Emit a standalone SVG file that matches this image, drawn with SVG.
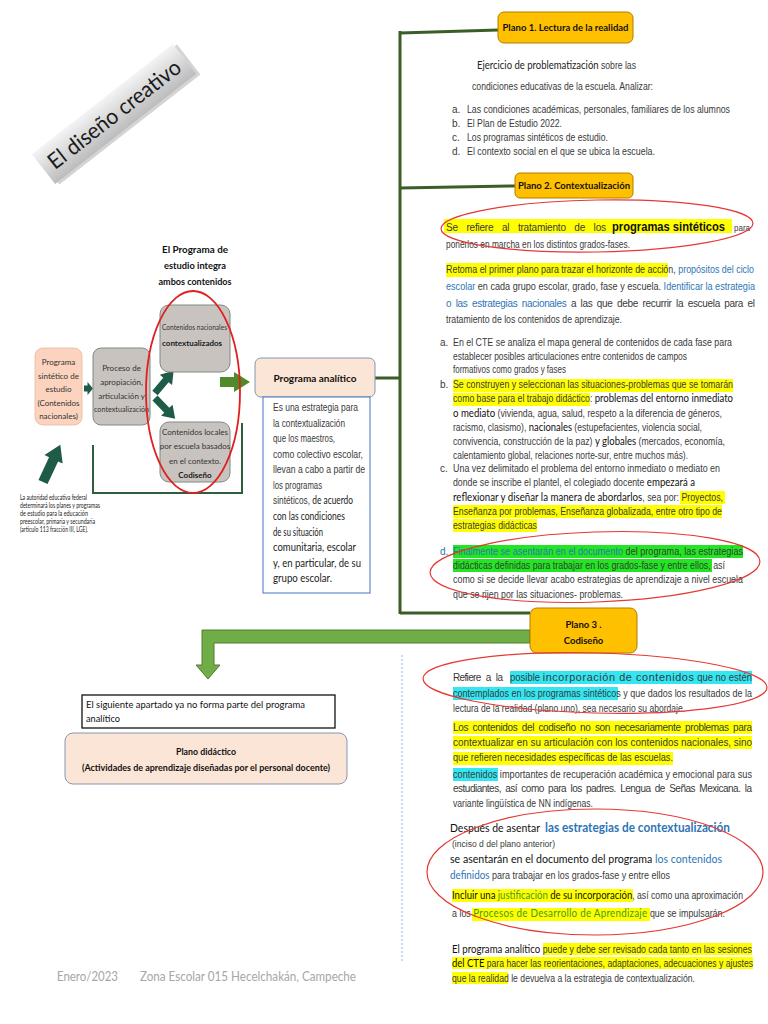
<svg xmlns="http://www.w3.org/2000/svg" width="768" height="1024" viewBox="0 0 768 1024">
<defs>
<style>
.n{font-family:"Liberation Sans Narrow","Liberation Sans",Arial,sans-serif;font-size:10px;fill:#3a3a3a}
.c{font-family:Lato,"Open Sans","Liberation Sans",sans-serif}
.b{font-weight:bold}
.k{fill:#111}
.bl{fill:#2e75b6}
.gr{fill:#3f9a2a}
.hy{fill:#ffff00}
.hc{fill:#33e6f2}
.hg{fill:#22e622}
.red{fill:none;stroke:#e53935;stroke-width:1.2}
.plano{fill:#ffc000;stroke:#b07d00;stroke-width:1}
.pt{font-family:Lato,"Open Sans",sans-serif;font-weight:bold;font-size:9.5px;fill:#111;text-anchor:middle}
.gbox{fill:#c9c3bf;stroke:#7f8a84;stroke-width:1}
.st{font-family:Lato,"Open Sans",sans-serif;font-size:8px;fill:#333;text-anchor:middle}
.sl{text-anchor:start}
.sb{font-weight:bold;fill:#1a1a1a}
.dg{fill:#1e5c48}
.conn{fill:none;stroke:#3b5e26;stroke-width:3}
</style>
<linearGradient id="tg" x1="0" y1="0" x2="0" y2="1"><stop offset="0" stop-color="#f4f4f4"/><stop offset="1" stop-color="#bcbcbc"/></linearGradient>
<polygon id="arr" points="0,-3.5 17,-3.5 17,-8 29,0 17,8 17,3.5 0,3.5"/>
<polygon id="arrB" points="0,-5 25,-5 25,-10 41,0 25,10 25,5 0,5"/>
</defs>
<rect width="768" height="1024" fill="#fff"/>

<g id="title" transform="rotate(-38 114 114)">
<rect x="27.5" y="98" width="179" height="38" fill="#aaa" opacity="0.5"/>
<rect x="24.5" y="95" width="179" height="38" fill="url(#tg)"/>
<text x="114" y="122" text-anchor="middle" class="c" font-size="22" fill="#1a1a1a" textLength="162" lengthAdjust="spacingAndGlyphs">El diseño creativo</text>
</g>

<g id="integra" class="c b" font-size="10" fill="#111" text-anchor="middle">
<text x="195" y="253" textLength="66" lengthAdjust="spacingAndGlyphs">El Programa de</text>
<text x="195" y="269" textLength="62" lengthAdjust="spacingAndGlyphs">estudio integra</text>
<text x="195" y="285" textLength="73" lengthAdjust="spacingAndGlyphs">ambos contenidos</text>
</g>

<g id="connectors">
<path class="conn" d="M400,31 V614"/>
<path class="conn" d="M400,33 L498,30"/>
<path class="conn" d="M400,188 L515,186"/>
<path class="conn" d="M400,613 L530,613"/>
<path class="conn" d="M375,378 H400"/>
<path d="M93,445 V493 H242 V423" fill="none" stroke="#2f5e3f" stroke-width="2"/>
<polygon points="84,385.5 87.5,385.5 87.5,382 93,388.5 87.5,395 87.5,391.5 84,391.5" class="dg"/>
<use href="#arr" class="dg" transform="translate(155 393) rotate(-50)"/>
<use href="#arr" class="dg" transform="translate(155 398) rotate(46)"/>
<use href="#arrB" class="dg" transform="translate(43 482) rotate(-65)"/>
<polygon points="220,377 234,377 234,372 250,382 234,392 234,387 220,387" fill="#4f8a2b"/>
<polygon points="530,630 202,630 202,665 196,665 208,679 220,665 214,665 214,643 530,643" fill="#70ad47" stroke="#507e32" stroke-width="1"/>
<path d="M402,655 V962" stroke="#9dc3e6" stroke-width="1.2" stroke-dasharray="2,2"/>
</g>

<g id="nodo-sintetico">
<rect x="35" y="348" width="47" height="77" rx="8" fill="#fbd3bf" stroke="#e9b8a0" stroke-width="0.8"/>
<text class="st"><tspan x="58.5" y="365">Programa</tspan><tspan x="58.5" y="379">sintético de</tspan><tspan x="58.5" y="392">estudio</tspan><tspan x="58.5" y="406">(Contenidos</tspan><tspan x="58.5" y="419">nacionales)</tspan></text>
</g>
<g id="nodo-proceso">
<rect x="93" y="348" width="57" height="77" rx="8" class="gbox"/>
<text class="st"><tspan x="121.5" y="371">Proceso de</tspan><tspan x="121.5" y="385">apropiación,</tspan><tspan x="121.5" y="399">articulación y</tspan></text>
<text class="st" x="121.5" y="412" textLength="55" lengthAdjust="spacingAndGlyphs">contextualización</text>
</g>
<g id="nodo-nacionales">
<rect x="160" y="305" width="70" height="67" rx="9" class="gbox"/>
<text class="st sl" x="162" y="330" textLength="65" lengthAdjust="spacingAndGlyphs">Contenidos  nacionales</text>
<text class="st sl sb" x="162" y="346">contextualizados</text>
</g>
<g id="nodo-locales">
<rect x="160" y="422" width="70" height="60" rx="9" class="gbox"/>
<text class="st"><tspan x="195" y="435">Contenidos locales</tspan><tspan x="195" y="449">por escuela basados</tspan><tspan x="195" y="464">en el contexto.</tspan><tspan x="195" y="478" class="sb">Codiseño</tspan></text>
</g>
<ellipse cx="193" cy="392" rx="47" ry="101" fill="none" stroke="#e02020" stroke-width="1.8"/>

<g id="nota-autoridad" class="c" font-size="6.8" fill="#222">
<text x="20" y="500" textLength="67" lengthAdjust="spacingAndGlyphs">La autoridad educativa federal</text>
<text x="20" y="508" textLength="80" lengthAdjust="spacingAndGlyphs">determinará los planes y programas</text>
<text x="20" y="516" textLength="68" lengthAdjust="spacingAndGlyphs">de estudio para la educación</text>
<text x="20" y="524" textLength="75" lengthAdjust="spacingAndGlyphs">preescolar, primaria y secundaria</text>
<text x="20" y="532" textLength="68" lengthAdjust="spacingAndGlyphs">(artículo 113 fracción III, LGE).</text>
</g>

<g id="programa-analitico">
<rect x="255" y="358" width="120" height="39" rx="6" fill="#fbe5d6" stroke="#8497b0" stroke-width="1"/>
<text class="c b" x="315" y="382" font-size="10" fill="#111" text-anchor="middle">Programa analítico</text>
<rect x="263" y="397" width="107" height="196" fill="#fff" stroke="#4472c4" stroke-width="1"/>
<g class="n" style="font-size:10.5px">
<text x="273" y="411" textLength="85" lengthAdjust="spacingAndGlyphs">Es una estrategia para</text>
<text x="273" y="427" textLength="72" lengthAdjust="spacingAndGlyphs">la contextualización</text>
<text x="273" y="442" textLength="62" lengthAdjust="spacingAndGlyphs">que los  maestros,</text>
<text x="273" y="458" textLength="90" lengthAdjust="spacingAndGlyphs">como colectivo escolar,</text>
<text x="273" y="473" textLength="92" lengthAdjust="spacingAndGlyphs">llevan a cabo a partir de</text>
<text x="273" y="489" textLength="49" lengthAdjust="spacingAndGlyphs">los programas</text>
<text x="273" y="504" textLength="80" lengthAdjust="spacingAndGlyphs">sintéticos, <tspan class="c" fill="#222">de acuerdo</tspan></text>
<text x="273" y="520" class="c" fill="#222" textLength="72" lengthAdjust="spacingAndGlyphs">con las condiciones</text>
<text x="273" y="536" class="c" fill="#222" textLength="50" lengthAdjust="spacingAndGlyphs">de su situación</text>
<text x="273" y="551" class="c" fill="#222" textLength="83" lengthAdjust="spacingAndGlyphs">comunitaria,  escolar</text>
<text x="273" y="567" class="c" fill="#222" textLength="88" lengthAdjust="spacingAndGlyphs">y, en particular, de su</text>
<text x="273" y="582" class="c" fill="#222" textLength="59" lengthAdjust="spacingAndGlyphs">grupo escolar.</text>
</g>
</g>

<g id="plano1">
<rect x="498" y="12" width="135" height="31" rx="6" class="plano"/>
<text class="pt" x="565.5" y="31">Plano 1. Lectura de la realidad</text>
</g>
<g id="plano1-texto" class="n">
<text x="477" y="69" textLength="159" lengthAdjust="spacingAndGlyphs"><tspan class="c" font-size="11" fill="#222">Ejercicio de problematización</tspan> sobre las</text>
<text x="472" y="90" textLength="181" lengthAdjust="spacingAndGlyphs">condiciones educativas de la escuela. Analizar:</text>
<text x="452" y="113">a.</text><text x="467" y="113" textLength="263" lengthAdjust="spacingAndGlyphs">Las condiciones académicas, personales,  familiares de los alumnos</text>
<text x="452" y="127">b.</text><text x="467" y="127" textLength="95" lengthAdjust="spacingAndGlyphs">El Plan de Estudio 2022.</text>
<text x="452" y="141">c.</text><text x="467" y="141" textLength="141" lengthAdjust="spacingAndGlyphs">Los programas sintéticos de estudio.</text>
<text x="452" y="155">d.</text><text x="467" y="155" textLength="188" lengthAdjust="spacingAndGlyphs">El contexto social en el que se ubica  la escuela.</text>
</g>

<g id="plano2">
<rect x="515" y="173" width="118" height="25" rx="5" class="plano"/>
<text class="pt" x="574" y="189">Plano 2. Contextualización</text>
</g>
<g id="plano2-texto">
<rect x="444" y="219" width="288" height="14" class="hy"/>
<rect x="446" y="263" width="222" height="14" class="hy"/>
<rect x="453" y="379" width="280" height="13" class="hy"/>
<rect x="453" y="393" width="137" height="13" class="hy"/>
<rect x="680" y="491" width="45" height="13" class="hy"/>
<rect x="453" y="505" width="269" height="13" class="hy"/>
<rect x="453" y="519" width="84" height="13" class="hy"/>
<rect x="453" y="545" width="290" height="13" class="hg"/>
<rect x="453" y="559" width="259" height="13" class="hg"/>
<g class="n">
<text x="446" y="231" word-spacing="6" textLength="160" lengthAdjust="spacing">Se refiere al tratamiento  de los</text>
<text x="612" y="231" font-size="13" class="b k" textLength="113" lengthAdjust="spacingAndGlyphs">programas sintéticos</text>
<text x="734" y="231" font-size="8.5" textLength="16" lengthAdjust="spacingAndGlyphs">para</text>
<text x="446" y="248" textLength="184" lengthAdjust="spacingAndGlyphs">ponerlos en marcha  en  los distintos grados-fases.</text>
<text x="446" y="273" textLength="308" lengthAdjust="spacingAndGlyphs">Retoma el primer plano para trazar el horizonte de acción, <tspan class="bl">propósitos del ciclo</tspan></text>
<text x="446" y="290" textLength="309" lengthAdjust="spacingAndGlyphs"><tspan class="bl">escolar</tspan> en cada grupo escolar, grado, fase  y escuela. <tspan class="bl">Identificar la estrategia</tspan></text>
<text x="446" y="307" word-spacing="2" textLength="309" lengthAdjust="spacing"><tspan class="bl">o las estrategias nacionales</tspan> a las que  debe recurrir la escuela para el</text>
<text x="446" y="323" textLength="176" lengthAdjust="spacingAndGlyphs">tratamiento de los contenidos de aprendizaje.</text>

<text x="440" y="346">a.</text>
<text x="453" y="346" textLength="279" lengthAdjust="spacingAndGlyphs">En el CTE se analiza el mapa general de contenidos de  cada fase para</text>
<text x="453" y="360" textLength="234" lengthAdjust="spacingAndGlyphs">establecer posibles articulaciones entre contenidos  de campos</text>
<text x="453" y="373" textLength="113" lengthAdjust="spacingAndGlyphs">formativos como grados y fases</text>
<text x="440" y="388">b.</text>
<text x="453" y="388" textLength="280" lengthAdjust="spacingAndGlyphs">Se construyen  y seleccionan las situaciones-problemas que se tomarán</text>
<text x="453" y="402" textLength="280" lengthAdjust="spacingAndGlyphs">como base para el trabajo didáctico: <tspan class="c k" font-size="11">problemas del entorno inmediato</tspan></text>
<text x="453" y="417" textLength="269" lengthAdjust="spacingAndGlyphs"><tspan class="c k" font-size="11">o  mediato</tspan> (vivienda, agua, salud, respeto a la diferencia de géneros,</text>
<text x="453" y="431" textLength="249" lengthAdjust="spacingAndGlyphs">racismo, clasismo), <tspan class="c k" font-size="11">nacionales</tspan> (estupefacientes, violencia social,</text>
<text x="453" y="445" textLength="272" lengthAdjust="spacingAndGlyphs">convivencia, construcción de la paz) <tspan class="c k" font-size="11">y globales</tspan> (mercados, economía,</text>
<text x="453" y="459" textLength="235" lengthAdjust="spacingAndGlyphs">calentamiento global, relaciones norte-sur, entre muchos más).</text>
<text x="440" y="472">c.</text>
<text x="453" y="472" textLength="267" lengthAdjust="spacingAndGlyphs">Una vez delimitado el problema del entorno inmediato o mediato  en</text>
<text x="453" y="486" textLength="242" lengthAdjust="spacingAndGlyphs">donde se inscribe el plantel, el colegiado docente <tspan class="c k" font-size="11">empezará a</tspan></text>
<text x="453" y="501" textLength="270" lengthAdjust="spacingAndGlyphs"><tspan class="c k" font-size="11">reflexionar y diseñar la manera de abordarlos</tspan>, sea por: Proyectos,</text>
<text x="453" y="515" textLength="269" lengthAdjust="spacingAndGlyphs">Enseñanza por problemas, Enseñanza globalizada, entre otro tipo de</text>
<text x="453" y="529" textLength="84" lengthAdjust="spacingAndGlyphs">estrategias didácticas</text>
<text x="440" y="555" class="bl">d.</text>
<text x="453" y="555" textLength="290" lengthAdjust="spacingAndGlyphs"><tspan class="bl">Finalmente se asentarán en el documento</tspan> del programa, las estrategias</text>
<text x="453" y="569" textLength="272" lengthAdjust="spacingAndGlyphs">didácticas definidas para trabajar en los grados-fase  y entre ellos, así</text>
<text x="453" y="583" textLength="290" lengthAdjust="spacingAndGlyphs">como si se decide llevar acabo estrategias de  aprendizaje a nivel escuela</text>
<text x="453" y="598" textLength="170" lengthAdjust="spacingAndGlyphs">que se rijen por las situaciones-  problemas.</text>
</g>
<ellipse class="red" cx="597" cy="226" rx="156" ry="26" transform="rotate(-1 597 226)"/>
<ellipse class="red" cx="595" cy="567" rx="165" ry="35" transform="rotate(-2 595 567)"/>
</g>

<g id="plano3">
<rect x="530" y="608" width="107" height="45" rx="7" class="plano"/>
<text class="pt"><tspan x="583.5" y="628">Plano 3 .</tspan><tspan x="583.5" y="644">Codiseño</tspan></text>
</g>
<g id="plano3-texto">
<rect x="510" y="671" width="242" height="13" class="hc"/>
<rect x="453" y="687" width="165" height="13" class="hc"/>
<rect x="453" y="721" width="299" height="13" class="hy"/>
<rect x="453" y="736" width="299" height="13" class="hy"/>
<rect x="453" y="752" width="220" height="13" class="hy"/>
<rect x="453" y="768" width="45" height="13" class="hc"/>
<rect x="452" y="889" width="181" height="13" class="hy"/>
<rect x="472" y="908" width="178" height="13" class="hy"/>
<rect x="543" y="943" width="209" height="12" class="hy"/>
<rect x="452" y="957" width="301" height="12" class="hy"/>
<rect x="452" y="972" width="56" height="12" class="hy"/>
<g class="n">
<text x="453" y="681" word-spacing="3" textLength="50" lengthAdjust="spacing">Refiere a la</text>
<text x="510" y="681" textLength="242" lengthAdjust="spacingAndGlyphs">posible <tspan font-size="11.5" letter-spacing="0.6">incorporación de contenidos</tspan> que no estén</text>
<text x="453" y="697" textLength="299" lengthAdjust="spacingAndGlyphs">contemplados en los  programas sintéticos y que dados los resultados de la</text>
<text x="453" y="712" textLength="232" lengthAdjust="spacingAndGlyphs">lectura de la realidad (plano uno), sea necesario su abordaje.</text>
<text x="453" y="731" word-spacing="2" textLength="299" lengthAdjust="spacing">Los  contenidos del codiseño no son necesariamente problemas para</text>
<text x="453" y="746" textLength="299" lengthAdjust="spacingAndGlyphs">contextualizar en su articulación con los contenidos nacionales, sino</text>
<text x="453" y="761" textLength="220" lengthAdjust="spacingAndGlyphs">que refieren necesidades específicas de las escuelas.</text>
<text x="453" y="778" textLength="299" lengthAdjust="spacingAndGlyphs">contenidos importantes de recuperación académica y emocional  para sus</text>
<text x="453" y="792" word-spacing="2" textLength="299" lengthAdjust="spacing">estudiantes, así como para los padres. Lengua de Señas Mexicana. la</text>
<text x="453" y="807" textLength="140" lengthAdjust="spacingAndGlyphs">variante lingüística de NN indígenas.</text>

<text x="450" y="832" class="c k" font-size="11" textLength="90" lengthAdjust="spacingAndGlyphs">Después de asentar</text>
<text x="545" y="832" class="c b bl" font-size="13" textLength="185" lengthAdjust="spacingAndGlyphs">las estrategias de contextualización</text>
<text x="452" y="847" font-size="8.5" textLength="103" lengthAdjust="spacingAndGlyphs">(inciso d del plano anterior)</text>
<text x="450" y="863" textLength="272" lengthAdjust="spacingAndGlyphs"><tspan class="c k" font-size="11">se asentarán en el documento  del programa</tspan> <tspan class="c bl" font-size="11">los contenidos</tspan></text>
<text x="450" y="879" textLength="220" lengthAdjust="spacingAndGlyphs"><tspan class="c bl" font-size="11">definidos</tspan> para trabajar en los  grados-fase y entre ellos</text>
<text x="452" y="899" textLength="291" lengthAdjust="spacingAndGlyphs"><tspan class="c k" font-size="11">Incluir una <tspan class="gr">justificación</tspan> de su incorporación</tspan>, así como  una aproximación</text>
<text x="452" y="917" textLength="273" lengthAdjust="spacingAndGlyphs">a los <tspan class="c gr" font-size="11" letter-spacing="0.3">Procesos de Desarrollo de Aprendizaje</tspan> que se impulsarán.</text>

<text x="452" y="953" textLength="300" lengthAdjust="spacingAndGlyphs"><tspan class="c k" font-size="11">El programa analítico</tspan> puede y debe ser revisado cada tanto en las sesiones</text>
<text x="452" y="967" textLength="301" lengthAdjust="spacingAndGlyphs"><tspan class="c k" font-size="11">del CTE</tspan> para hacer las reorientaciones, adaptaciones, adecuaciones y ajustes</text>
<text x="452" y="982" textLength="243" lengthAdjust="spacingAndGlyphs">que la realidad le devuelva a la estrategia de contextualización.</text>
</g>
<ellipse class="red" cx="595" cy="683" rx="172" ry="30" transform="rotate(1.5 595 683)"/>
<ellipse class="red" cx="595" cy="872" rx="168" ry="63"/>
</g>

<g id="aviso">
<rect x="82" y="695" width="253" height="33" fill="#fff" stroke="#111" stroke-width="1.3"/>
<text class="c" font-size="10" fill="#111" x="86" y="708" textLength="219" lengthAdjust="spacingAndGlyphs">El siguiente apartado ya no forma parte del programa</text>
<text class="c" font-size="10" fill="#111" x="86" y="722" textLength="34" lengthAdjust="spacingAndGlyphs">analítico</text>
</g>
<g id="plano-didactico">
<rect x="65" y="733" width="282" height="51" rx="8" fill="#fbe5d6" stroke="#8497b0" stroke-width="1"/>
<text class="c b" font-size="9.5" fill="#111" x="206" y="755" text-anchor="middle" textLength="60" lengthAdjust="spacingAndGlyphs">Plano didáctico</text>
<text class="c b" font-size="9.5" fill="#111" x="206" y="771" text-anchor="middle" textLength="248" lengthAdjust="spacingAndGlyphs">(Actividades de aprendizaje diseñadas por el personal docente)</text>
</g>

<g id="pie" class="c" font-size="13" fill="#a6a6a6">
<text x="57" y="981" textLength="61" lengthAdjust="spacingAndGlyphs">Enero/2023</text>
<text x="140" y="981" textLength="216" lengthAdjust="spacingAndGlyphs">Zona Escolar 015 Hecelchakán, Campeche</text>
</g>
</svg>
